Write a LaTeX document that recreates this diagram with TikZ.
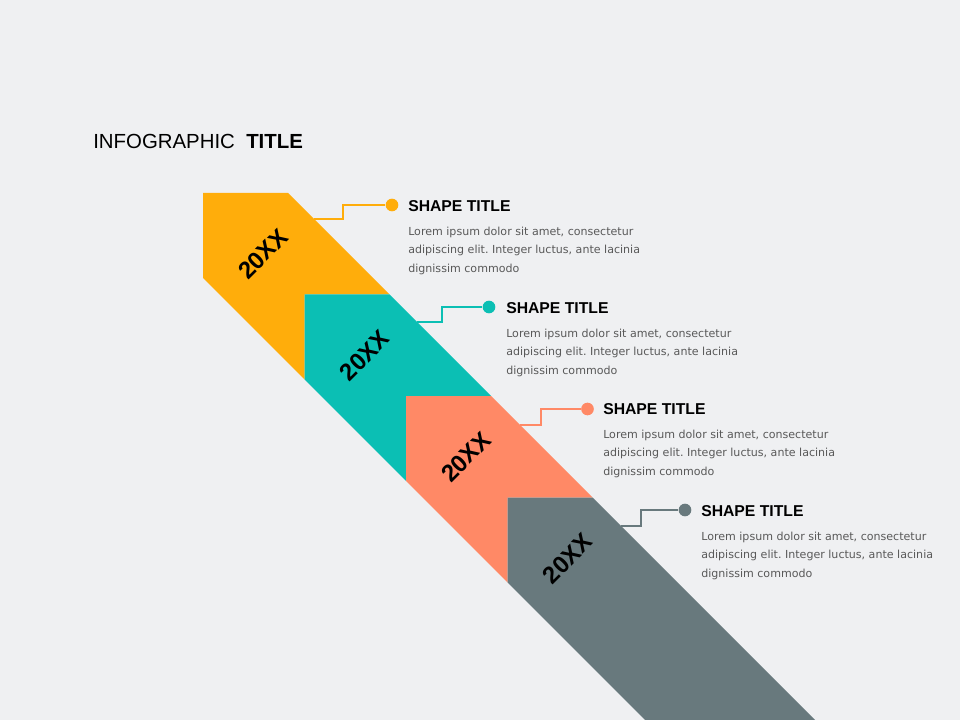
\documentclass[tikz,border=0pt]{standalone}
\usepackage{fontspec}
\setmainfont{Liberation Sans}
\newfontfamily\bodyfont{DejaVu Sans}
\definecolor{bgcol}{HTML}{EFF0F2}
\definecolor{ycol}{HTML}{FFAD0B}
\definecolor{tcol}{HTML}{0BBFB4}
\definecolor{ocol}{HTML}{FF8966}
\definecolor{gcol}{HTML}{68797D}
\definecolor{txtcol}{HTML}{595959}
\frenchspacing
\begin{document}
\begin{tikzpicture}[x=0.75pt,y=-0.75pt,
  year/.style={rotate=45, inner sep=0pt, font=\bfseries\fontsize{18}{18}\selectfont},
  dot/.style={circle, fill=#1, inner sep=0pt, minimum size=9.5pt},
  head/.style={anchor=west, inner sep=0pt, font=\bfseries\fontsize{11.8}{12}\selectfont},
  body/.style={anchor=north west, inner sep=0pt, align=left, text=txtcol, font=\bodyfont\fontsize{8.3}{14}\selectfont}]
\useasboundingbox (0,0) rectangle (960,720);
\fill[bgcol] (0,0) rectangle (960,720);
\clip (0,0) rectangle (960,720);

\node[anchor=west, inner sep=0pt, font=\fontsize{15.3}{16}\selectfont] (title) at (93,141) {INFOGRAPHIC\ \ \textbf{TITLE}};

% steps
\fill[ycol] (203,193) -- (288,193) -- (389.5,294.5) -- (304.5,294.5) -- (304.5,379.5) -- (203,278) -- cycle;
\fill[tcol] (304.5,294.5) -- (389.5,294.5) -- (491,396) -- (406,396) -- (406,481) -- (304.5,379.5) -- cycle;
\fill[ocol] (406,396) -- (491,396) -- (592.5,497.5) -- (507.5,497.5) -- (507.5,582.5) -- (406,481) -- cycle;
\fill[gcol] (507.5,497.5) -- (592.5,497.5) -- (892.5,797.5) -- (722.5,797.5) -- (507.5,582.5) -- cycle;

\node[year] (y1) at (263,254) {20XX};
\node[year] (y2) at (364.5,355.5) {20XX};
\node[year] (y3) at (466,457) {20XX};
\node[year] (y4) at (567.5,558.5) {20XX};

% callouts
\node[dot=ycol] (d1) at (392,205) {};
\node[dot=tcol] (d2) at (489,307) {};
\node[dot=ocol] (d3) at (587.5,409) {};
\node[dot=gcol] (d4) at (685,510) {};

\coordinate (c1) at (314,219);
\coordinate (c2) at (417,322);
\coordinate (c3) at (519.5,425);
\coordinate (c4) at (621,526);
\coordinate (k1) at (343,219);
\coordinate (k2) at (442,322);
\coordinate (k3) at (541,425);
\coordinate (k4) at (641,526);

\path[draw,ycol,line width=1.5pt] (c1) -- (k1) |- (d1);
\path[draw,tcol,line width=1.5pt] (c2) -- (k2) |- (d2);
\path[draw,ocol,line width=1.5pt] (c3) -- (k3) |- (d3);
\path[draw,gcol,line width=1.5pt] (c4) -- (k4) |- (d4);

\node[head] (h1) at (408,206) {SHAPE TITLE};
\node[head] (h2) at (506,308) {SHAPE TITLE};
\node[head] (h3) at (603,409) {SHAPE TITLE};
\node[head] (h4) at (701,511) {SHAPE TITLE};

\node[body] (b1) at (408,226.5) {Lorem ipsum dolor sit amet, consectetur\\adipiscing elit. Integer luctus, ante lacinia\\dignissim commodo};
\node[body] (b2) at (506,328.5) {Lorem ipsum dolor sit amet, consectetur\\adipiscing elit. Integer luctus, ante lacinia\\dignissim commodo};
\node[body] (b3) at (603,429.5) {Lorem ipsum dolor sit amet, consectetur\\adipiscing elit. Integer luctus, ante lacinia\\dignissim commodo};
\node[body] (b4) at (701,531.5) {Lorem ipsum dolor sit amet, consectetur\\adipiscing elit. Integer luctus, ante lacinia\\dignissim commodo};
\end{tikzpicture}
\end{document}
